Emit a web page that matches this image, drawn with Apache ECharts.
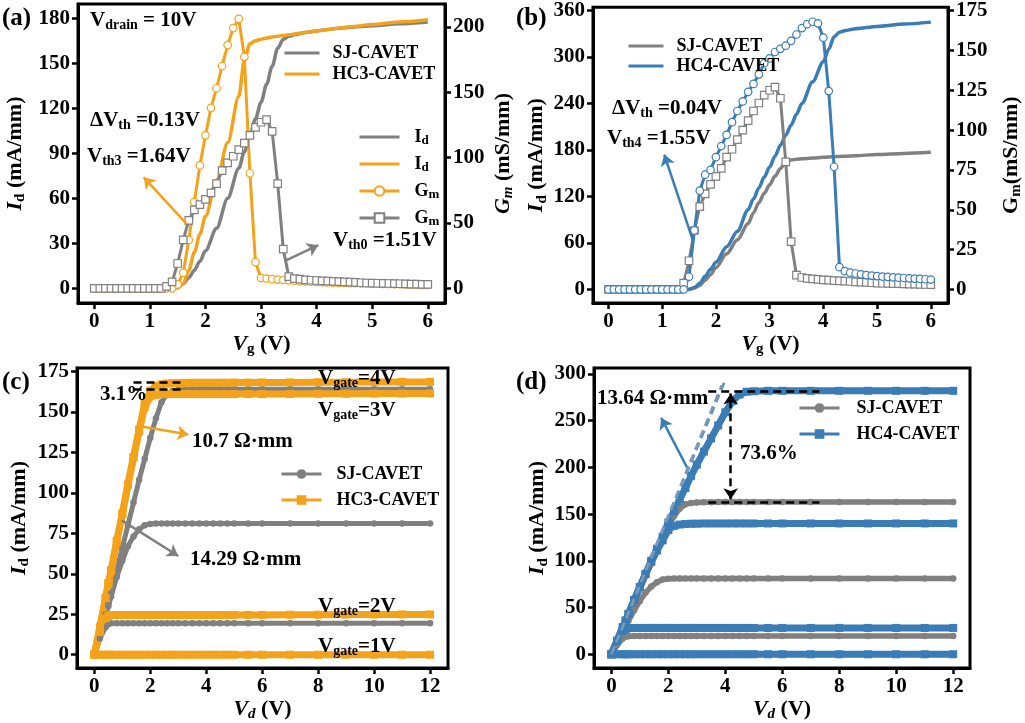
<!DOCTYPE html>
<html>
<head>
<meta charset="utf-8">
<script src="https://cdn.jsdelivr.net/npm/echarts@6/dist/echarts.min.js"></script>
<style>
html, body { margin: 0; padding: 0; background: #fff; }
#main { width: 1025px; height: 723px; }
</style>
</head>
<body>
<div id="main"></div>
<script>
var SERIF = '"Liberation Serif", "Times New Roman", serif';
var GRAY = '#808080', ORANGE = '#F5A21B', BLUE = '#3A7CB6';

// ---- (a)/(b) transfer: Vg grid of the Gm markers and of the Id curves
var vgGm = [0,0.1,0.2,0.3,0.4,0.5,0.6,0.7,0.8,0.9,1,1.1,1.2,1.3,1.4,1.5,1.6,1.7,1.8,1.9,2,2.1,2.2,2.3,2.4,2.5,2.6,2.7,2.8,2.9,3,3.1,3.2,3.3,3.4,3.5,3.6,3.7,3.8,3.9,4,4.1,4.2,4.3,4.4,4.5,4.6,4.7,4.8,4.9,5,5.1,5.2,5.3,5.4,5.5,5.6,5.7,5.8,5.9,6];
var vgId = [0,1,1.4,1.5,1.6,1.7,1.8,1.9,2,2.2,2.4,2.6,2.7,2.8,2.9,3,3.1,3.2,3.3,3.4,3.5,3.6,3.8,4,4.1,4.2,4.3,4.4,4.6,5,5.5,6];

// (a) SJ vs HC3
var idSJa  = [0,0,0,0.3,3,7,12,18,25,40,60,80,91,102,113,124,136,148,160,166,168,169,170.5,171.5,172,172.5,173,173.3,174,175,176.3,177.5];
var idHC3a = [0,0,0,0.3,3,12,24,36,48,72,97,128,152,163,165,166,166.8,167.5,168,168.5,169,169.5,170.5,171.5,172,172.5,173,173.5,174.3,175.8,177.5,179];
var gmSJa  = [0,0,0,0,0,0,0,0,0,0,0,0,0,
  1.5,5,19,37,52,60,64,68,73,80,
  90,96,101,106,111,117,123,127,129,120,
  80,30,9,7.5,7,6.5,6.2,6,5.7,5.5,
  5.3,5.1,4.9,4.7,4.5,4.3,4.1,4,3.9,3.8,
  3.7,3.6,3.5,3.4,3.3,3.2,3.1,3];
var gmHC3a = [0,0,0,0,0,0,0,0,0,0,0,0,0,0,0,
  3,12,37,66,94,117,138,153,170,186,
  199,206,177,88,20,8,7.5,7,6.7,6.4,
  6.1,5.8,5.5,5.3,5.1,4.9,4.7,4.5,4.3,4.2,
  4.1,4,3.9,3.8,3.7,3.6,3.5,3.4,3.3,3.2,
  3.1,3,2.9,2.8,2.7,2.6];

// (b) SJ vs HC4
var idSJb  = [0,0,0,0.3,2,5,12,19,28,46,64,85,99,112,124,135,146,156,164,167,168,168.6,169.5,170.5,171,171.3,171.7,172,172.7,174,175.5,177];
var idHC4b = [0,0,0,0,2.5,8,17,26,35,55,75,103,117,131,145,158,172,186,199,212,226,240,268,294,310,326,332,334,336.5,339.5,342.5,345];
var gmSJb  = [0,0,0,0,0,0,0,0,0,0,0,0,0,0,
  4,18,37,52,60,66,71,76,83,88,
  94,100,106,112,117,122,125,127,120,80,
  30,9,7.5,7,6.6,6.3,6,5.8,5.6,5.4,
  5.2,5,4.8,4.6,4.4,4.2,4,3.9,3.8,3.7,
  3.6,3.5,3.4,3.3,3.2,3.1,3];
var gmHC4b = [0,0,0,0,0,0,0,0,0,0,0,0,0,0,0,
  8,37,62,72,75,83,90,97,105,112,
  118,124,129,135,142,145,149,151,153,156,
  160,164,166.5,168,167,158,124.5,77,14,11.5,
  10.5,10,9.5,9,8.7,8.4,8.1,7.9,7.6,7.4,
  7.2,7,6.8,6.6,6.4,6.2];

// ---- (c)/(d) output: Vd grid
var vd = [0,0.2,0.4,0.5,0.6,0.8,1,1.2,1.4,1.6,1.8,2,2.2,2.4,2.6,2.8,3,3.25,3.5,3.75,4,4.25,4.5,4.75,5,5.5,6,7,8,9,10,11,12];
var idOff = [0,0,0,0,0,0,0,0,0,0,0,0,0,0,0,0,0,0,0,0,0,0,0,0,0,0,0,0,0,0,0,0,0];

// (c) HC3 at Vgate = 4, 3, 2 V
var idC4HC3 = [0,17,35,44,52,70,87,105,122,139,155,163,166,167,167.5,167.7,167.8,167.9,168,168,168,168,168,168,168.1,168.1,168.2,168.2,168.3,168.3,168.4,168.5,168.5];
var idC3HC3 = [0,17,35,44,52,70,87,105,122,138,153,159.5,160.5,161,161,161,161,161,161,161,161,161,161,161,161,161,161,161.1,161.2,161.2,161.3,161.3,161.4];
var idC2HC3 = [0,14,22.5,24,24.5,24.5,24.5,24.5,24.5,24.5,24.5,24.5,24.5,24.5,24.5,24.5,24.5,24.5,24.5,24.5,24.5,24.5,24.5,24.5,24.6,24.6,24.6,24.7,24.7,24.8,24.8,24.9,24.9];
// (c) SJ
var idC4SJ = [0,12,25,31,38,52,66,80,94,108,121,134,146,156,161,163,163.5,163.7,163.8,163.9,164,164,164,164,164,164,164,164,164,164,164,164,164];
var idC3SJ = [0,12,24,30,36,48,58,67,73,77.5,80,80.8,81,81,81,81,81,81,81,81,81,81,81,81,81,81,81,81,81,81,81,81,81];
var idC2SJ = [0,10,17,18.8,19.5,19.5,19.5,19.5,19.5,19.5,19.5,19.5,19.5,19.5,19.5,19.5,19.5,19.5,19.5,19.5,19.5,19.5,19.5,19.5,19.5,19.5,19.5,19.5,19.5,19.5,19.5,19.5,19.5];

// (d) HC4
var idD4HC4 = [0,14.5,29,36,43,58,72,86,100,113,126,141,153,166,178,191,203,217,231,245,259,271,278,281,281.5,282,282,282,282,282,282,282,282];
var idD3HC4 = [0,14.5,29,36,43,58,72,86,99,111,122,133,137.5,138.8,139.4,139.7,139.8,140,140,140,140,140,140,140,140,140,140,140,140,140,140,140,140];
var idD2HC4 = [0,14,25,27,28,28.2,28.2,28.2,28.2,28.2,28.2,28.2,28.2,28.2,28.2,28.2,28.2,28.2,28.2,28.2,28.2,28.2,28.2,28.2,28.2,28.2,28.2,28.2,28.2,28.2,28.2,28.2,28.2];
// (d) SJ
var idD4SJ = [0,14,28,35,42,56,70,84,97,110,123,136,148,156,160.5,162,162.5,162.7,162.8,162.9,163,163,163,163,163,163,163,163,163,163,163,163,163];
var idD3SJ = [0,12,24,30,36,47,57,66,72.5,77,80,80.8,81,81,81,81,81,81,81,81,81,81,81,81,81,81,81,81,81,81,81,81,81];
var idD2SJ = [0,10,17,18.8,19.4,19.5,19.5,19.5,19.5,19.5,19.5,19.5,19.5,19.5,19.5,19.5,19.5,19.5,19.5,19.5,19.5,19.5,19.5,19.5,19.5,19.5,19.5,19.5,19.5,19.5,19.5,19.5,19.5];

// tick labels
var vgTicks = [0,1,2,3,4,5,6];
var vdTicks = [0,2,4,6,8,10,12];
var idTicksA = [0,30,60,90,120,150,180];
var gmTicksA = [0,50,100,150,200];
var idTicksB = [0,60,120,180,240,300,360];
var gmTicksB = [0,25,50,75,100,125,150,175];
var idTicksC = [0,25,50,75,100,125,150,175];
var idTicksD = [0,50,100,150,200,250,300];

function pairs(xs, ys) {
    return xs.map(function (x, i) { return [x, ys[i]]; });
}

var NAME_RICH = {
    i: { fontFamily: SERIF, fontWeight: 'bold', fontStyle: 'italic', fontSize: 22, color: '#000', lineHeight: 26 },
    t: { fontFamily: SERIF, fontWeight: 'bold', fontSize: 22, color: '#000', lineHeight: 26 },
    s: { fontFamily: SERIF, fontWeight: 'bold', fontSize: 15, color: '#000', lineHeight: 10, verticalAlign: 'bottom' },
    si: { fontFamily: SERIF, fontWeight: 'bold', fontStyle: 'italic', fontSize: 15, color: '#000', lineHeight: 10, verticalAlign: 'bottom' }
};

function axis(o, ticks) {
    var a = {
        type: 'value',
        nameLocation: 'middle',
        nameTextStyle: { rich: NAME_RICH },
        axisLine: { show: true, onZero: false, lineStyle: { color: '#000', width: 3 } },
        axisTick: { show: true, length: 6, customValues: ticks, lineStyle: { color: '#000', width: 2.5 } },
        axisLabel: { customValues: ticks, color: '#000', fontFamily: SERIF, fontWeight: 'bold', fontSize: 21, margin: 8 },
        splitLine: { show: false }
    };
    for (var k in o) a[k] = o[k];
    return a;
}

var LEG_RICH = {
    t: { fontFamily: SERIF, fontWeight: 'bold', fontSize: 18, color: '#000', lineHeight: 20 },
    s: { fontFamily: SERIF, fontWeight: 'bold', fontSize: 13, color: '#000', lineHeight: 8, verticalAlign: 'bottom' }
};
function legendFmt(name) {
    var b = name.split('#')[0];
    if (b === 'Id') return '{t|I}{s|d}';
    if (b === 'Gm') return '{t|G}{s|m}';
    return '{t|' + b + '}';
}
// plain line entries: hide the marker the legend adds by default
function plain(name) {
    return { name: name, itemStyle: { opacity: 0 } };
}
function legend(names, left, top, w, gap, pad) {
    return {
        data: names, left: left, top: top, orient: 'vertical',
        itemWidth: w, itemHeight: 12, itemGap: gap, selectedMode: false,
        formatter: legendFmt, lineStyle: { width: 3 },
        textStyle: { padding: [0, 0, 0, pad], rich: LEG_RICH }
    };
}

var RZ = {
    v: { fill: '#000', fontFamily: SERIF, fontWeight: 'bold', fontSize: 21, lineHeight: 24 },
    p: { fill: '#000', fontFamily: SERIF, fontWeight: 'bold', fontSize: 25, lineHeight: 24 },
    s: { fill: '#000', fontFamily: SERIF, fontWeight: 'bold', fontSize: 14, lineHeight: 10, verticalAlign: 'bottom' }
};
function txt(left, top, text) {
    return { type: 'text', left: left, top: top, z: 100, style: { text: text, rich: RZ } };
}

function arrow(p1, p2, color) {
    return [{ coord: p1, symbol: 'none', lineStyle: { color: color, width: 2.5, type: 'solid' } }, { coord: p2, symbol: 'arrow' }];
}
function dash(p1, p2, color, s1, s2) {
    return [{ coord: p1, symbol: s1 || 'none', lineStyle: { color: color, width: 2.5, type: [8, 5] } }, { coord: p2, symbol: s2 || 'none' }];
}
function marks(list) {
    return { silent: true, symbolSize: 11, label: { show: false }, emphasis: { disabled: true }, data: list };
}

function idLine(name, xi, yi, ys, color, xs) {
    return { name: name, type: 'line', xAxisIndex: xi, yAxisIndex: yi, data: pairs(xs || vgId, ys),
        showSymbol: false, symbol: 'none', smooth: 0.3, smoothMonotone: 'x',
        lineStyle: { color: color, width: 3.5 }, itemStyle: { color: color } };
}
function gmLine(name, xi, yi, ys, color, sym) {
    return { name: name, type: 'line', xAxisIndex: xi, yAxisIndex: yi, data: pairs(vgGm, ys),
        symbol: sym, symbolSize: 7.5, showAllSymbol: true,
        lineStyle: { color: color, width: 3 },
        itemStyle: { color: '#fff', borderColor: color, borderWidth: 1.2 } };
}
function outLine(name, xi, yi, ys, color, sym, w, ss) {
    return { name: name, type: 'line', xAxisIndex: xi, yAxisIndex: yi, data: pairs(vd, ys),
        symbol: sym, symbolSize: ss, showAllSymbol: true,
        lineStyle: { color: color, width: w }, itemStyle: { color: color } };
}

var chart = echarts.init(document.getElementById('main'));

var sjA = idLine('SJ-CAVET#a', 0, 0, idSJa, GRAY);
sjA.markLine = marks([arrow([1.66, 43], [0.89, 74], ORANGE), arrow([3.46, 18.7], [4.03, 28.7], GRAY)]);
var sjB = idLine('SJ-CAVET#b', 1, 2, idSJb, GRAY);
sjB.markLine = marks([arrow([1.575, 62.8], [1.04, 174], BLUE)]);

var lastC = outLine('HC3-CAVET#c', 2, 4, idOff, ORANGE, 'rect', 7, 8);
lastC.markLine = marks([
    arrow([1.69, 141], [3.36, 136], ORANGE),
    arrow([0.98, 83], [3.0, 61], GRAY),
    dash([1.4, 168.4], [3.2, 168.4], '#000'),
    dash([1.4, 163.7], [3.2, 163.7], '#000')
]);
var lastD = outLine('HC4-CAVET#d', 3, 5, idOff, BLUE, 'rect', 7, 8);
lastD.markLine = marks([
    arrow([2.68, 198.6], [1.75, 253], BLUE),
    dash([0, 0], [3.98, 292], '#5b8fc4'),
    dash([0, 0], [3.87, 288], '#7e9ab8'),
    dash([3.4, 282], [7.3, 282], '#000'),
    dash([3.4, 163], [7.3, 163], '#000'),
    dash([4.19, 166], [4.19, 279], '#000', 'arrow', 'arrow')
]);

var option = {
    animation: false,
    backgroundColor: '#fff',
    grid: [
        { left: 78, top: 4, width: 367, height: 299, show: true, borderColor: '#000', borderWidth: 3 },
        { left: 593, top: 5, width: 368, height: 298, show: true, borderColor: '#000', borderWidth: 3 },
        { left: 77, top: 368, width: 371, height: 300, show: true, borderColor: '#000', borderWidth: 3 },
        { left: 594, top: 368, width: 376, height: 304, show: true, borderColor: '#000', borderWidth: 3 }
    ],
    xAxis: [
        axis({ gridIndex: 0, min: -0.293, max: 6.31, name: '{i|V}{s|g}{t| (V)}', nameGap: 20 }, vgTicks),
        axis({ gridIndex: 1, min: -0.287, max: 6.32, name: '{i|V}{s|g}{t| (V)}', nameGap: 20 }, vgTicks),
        axis({ gridIndex: 2, min: -0.62, max: 12.64, name: '{i|V}{si|d}{t| (V)}', nameGap: 27 }, vdTicks),
        axis({ gridIndex: 3, min: -0.61, max: 12.59, name: '{i|V}{si|d}{t| (V)}', nameGap: 27 }, vdTicks)
    ],
    yAxis: [
        axis({ gridIndex: 0, min: -9.8, max: 189.5, name: '{i|I}{s|d}{t| (mA/mm)}', nameGap: 50 }, idTicksA),
        axis({ gridIndex: 0, position: 'right', min: -11.2, max: 217.4, name: '{i|G}{si|m}{t| (mS/mm)}', nameGap: 45 }, gmTicksA),
        axis({ gridIndex: 1, min: -17.5, max: 364.2, name: '{i|I}{s|d}{t| (mA/mm)}', nameGap: 40 }, idTicksB),
        axis({ gridIndex: 1, position: 'right', min: -8.5, max: 177.1, name: '{t|G}{s|m}{t|(mS/mm)}', nameGap: 50 }, gmTicksB),
        axis({ gridIndex: 2, min: -8.2, max: 177.1, name: '{i|I}{s|d}{t| (mA/mm)}', nameGap: 45 }, idTicksC),
        axis({ gridIndex: 3, min: -14.8, max: 306.4, name: '{i|I}{s|d}{t| (mA/mm)}', nameGap: 40 }, idTicksD)
    ],
    legend: [
        legend([plain('SJ-CAVET#a'), plain('HC3-CAVET#a')], 278, 39, 35, 3, 8),
        legend([plain('Id#a1'), plain('Id#a2'), 'Gm#a2', 'Gm#a1'], 353, 123, 40, 8, 10),
        legend([plain('SJ-CAVET#b'), plain('HC4-CAVET#b')], 622, 32, 35, 2, 8),
        legend(['SJ-CAVET#c', 'HC3-CAVET#c'], 275, 460, 40, 8, 10),
        legend(['SJ-CAVET#d', 'HC4-CAVET#d'], 793, 394, 40, 8, 12)
    ],
    graphic: [
        txt(2, 6, '{p|(a)}'),
        txt(90, 10, '{v|V}{s|drain}{v| = 10V}'),
        txt(90, 110, '{v|ΔV}{s|th}{v| =0.13V}'),
        txt(87, 146, '{v|V}{s|th3}{v| =1.64V}'),
        txt(333, 230, '{v|V}{s|th0}{v| =1.51V}'),
        txt(516, 6, '{p|(b)}'),
        txt(612, 98, '{v|ΔV}{s|th}{v| =0.04V}'),
        txt(607, 128, '{v|V}{s|th4}{v| =1.55V}'),
        txt(2, 370, '{p|(c)}'),
        txt(100, 384, '{v|3.1%}'),
        txt(192, 431, '{v|10.7 Ω·mm}'),
        txt(190, 549, '{v|14.29 Ω·mm}'),
        txt(318, 368, '{v|V}{s|gate}{v|=4V}'),
        txt(318, 400, '{v|V}{s|gate}{v|=3V}'),
        txt(318, 596, '{v|V}{s|gate}{v|=2V}'),
        txt(318, 636, '{v|V}{s|gate}{v|=1V}'),
        txt(516, 370, '{p|(d)}'),
        txt(597, 388, '{v|13.64 Ω·mm}'),
        txt(740, 443, '{v|73.6%}')
    ],
    series: [
        // (a)
        sjA,
        idLine('HC3-CAVET#a', 0, 0, idHC3a, ORANGE),
        { name: 'Id#a1', type: 'line', xAxisIndex: 0, yAxisIndex: 0, data: [], symbol: 'none', lineStyle: { color: GRAY, width: 3 }, itemStyle: { color: GRAY } },
        { name: 'Id#a2', type: 'line', xAxisIndex: 0, yAxisIndex: 0, data: [], symbol: 'none', lineStyle: { color: ORANGE, width: 3 }, itemStyle: { color: ORANGE } },
        gmLine('Gm#a2', 0, 1, gmHC3a, ORANGE, 'circle'),
        gmLine('Gm#a1', 0, 1, gmSJa, GRAY, 'rect'),
        // (b)
        sjB,
        idLine('HC4-CAVET#b', 1, 2, idHC4b, BLUE),
        gmLine('Gm#b1', 1, 3, gmSJb, GRAY, 'rect'),
        gmLine('Gm#b2', 1, 3, gmHC4b, BLUE, 'circle'),
        // (c)
        outLine('SJ-CAVET#c', 2, 4, idC4SJ, GRAY, 'circle', 5, 6.5),
        outLine('SJ-CAVET#c', 2, 4, idC3SJ, GRAY, 'circle', 5, 6.5),
        outLine('SJ-CAVET#c', 2, 4, idC2SJ, GRAY, 'circle', 5, 6.5),
        outLine('SJ-CAVET#c', 2, 4, idOff, GRAY, 'circle', 5, 6.5),
        outLine('HC3-CAVET#c', 2, 4, idC4HC3, ORANGE, 'rect', 7, 8),
        outLine('HC3-CAVET#c', 2, 4, idC3HC3, ORANGE, 'rect', 7, 8),
        outLine('HC3-CAVET#c', 2, 4, idC2HC3, ORANGE, 'rect', 7, 8),
        lastC,
        // (d)
        outLine('SJ-CAVET#d', 3, 5, idD4SJ, GRAY, 'circle', 5.5, 6.5),
        outLine('SJ-CAVET#d', 3, 5, idD3SJ, GRAY, 'circle', 5.5, 6.5),
        outLine('SJ-CAVET#d', 3, 5, idD2SJ, GRAY, 'circle', 5.5, 6.5),
        outLine('SJ-CAVET#d', 3, 5, idOff, GRAY, 'circle', 5.5, 6.5),
        outLine('HC4-CAVET#d', 3, 5, idD4HC4, BLUE, 'rect', 7, 8),
        outLine('HC4-CAVET#d', 3, 5, idD3HC4, BLUE, 'rect', 7, 8),
        outLine('HC4-CAVET#d', 3, 5, idD2HC4, BLUE, 'rect', 7, 8),
        lastD
    ]
};
chart.setOption(option);
</script>
</body>
</html>
